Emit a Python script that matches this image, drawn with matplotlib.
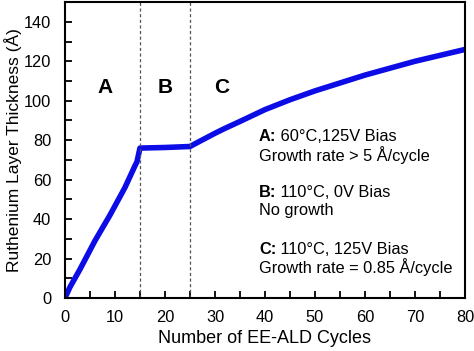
import matplotlib
matplotlib.use('Agg')
import matplotlib.pyplot as plt

plt.rcParams['font.family'] = ['Liberation Sans', 'DejaVu Sans']

# thickness curve
cycles = [0, 1, 3, 6, 9, 12, 14, 14.4, 15, 20, 25, 27, 30, 32, 35, 40, 45, 50, 55, 60, 65, 70, 75, 80]
thickness = [0, 5.5, 14.5, 29, 42, 56, 67, 69, 76, 76.3, 76.8, 79.5, 83.5, 86, 89.5, 95.5, 100.5, 105,
             109, 113, 116.5, 120, 123, 126]

region_bounds = [15, 25]
region_names = ['A', 'B', 'C']
region_x = [8, 20, 31.3]

notes = [('A:', ' 60°C,125V Bias', 'Growth rate > 5 Å/cycle'),
         ('B:', ' 110°C, 0V Bias', 'No growth'),
         ('C:', ' 110°C, 125V Bias', 'Growth rate = 0.85 Å/cycle')]
note_y = [81.7, 53.5, 24.7]

fig = plt.figure(figsize=(4.74, 3.51), dpi=100)
ax = fig.add_axes([0.137, 0.151, 0.844, 0.843])

ax.plot(cycles, thickness, color='#0c0ce6', lw=4, solid_capstyle='butt')
for b in region_bounds:
    ax.axvline(b, color='#555555', lw=0.9, ls=(0, (2.5, 2)))
for name, x in zip(region_names, region_x):
    ax.text(x, 106.5, name, fontsize=15, fontweight='bold', ha='center', va='center')

fs = 11.8
for (head, rest, line2), y in zip(notes, note_y):
    t = ax.text(38.8, y, head, fontsize=fs, fontweight='bold', ha='left', va='center')
    ax.annotate(rest, xy=(1, 0.5), xycoords=t, fontsize=fs, ha='left', va='center')
    ax.text(38.8, y - 9.2, line2, fontsize=fs, ha='left', va='center')

ax.set_xlim(0, 80)
ax.set_ylim(0, 150)
ax.set_xticks(range(0, 81, 10))
ax.set_xticks(range(0, 81, 5), minor=True)
ax.set_yticks(range(0, 141, 20))
ax.set_yticks(range(0, 151, 10), minor=True)
ax.tick_params(which='both', direction='in', labelsize=fs, width=1.3)
ax.tick_params(which='major', length=5)
ax.tick_params(which='minor', length=5)
ax.tick_params(axis='x', pad=9)
ax.tick_params(axis='y', pad=10)
for s in ax.spines.values():
    s.set_linewidth(1.5)

ax.set_xlabel('Number of EE-ALD Cycles', fontsize=13, labelpad=3)
ax.set_ylabel('Ruthenium Layer Thickness (Å)', fontsize=12.5, labelpad=1)

fig.savefig('out.png', dpi=100)
